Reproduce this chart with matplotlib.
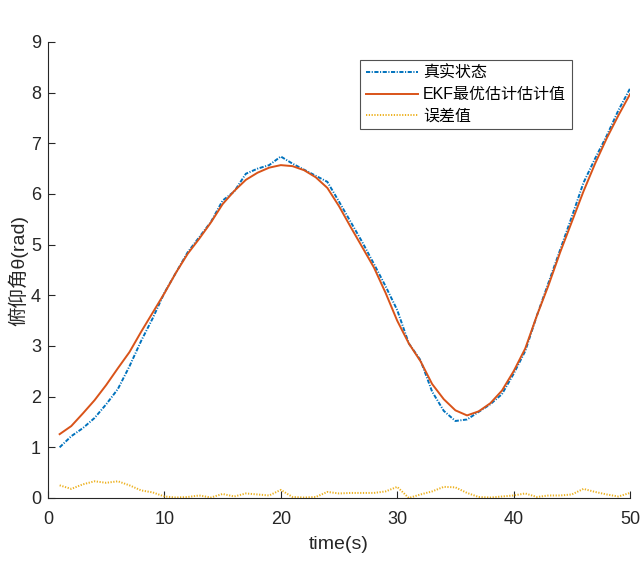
import matplotlib
matplotlib.use("Agg")
import matplotlib.pyplot as plt

plt.rcParams['font.family'] = ['Liberation Sans', 'Noto Sans CJK SC', 'DejaVu Sans']
plt.rcParams['lines.scale_dashes'] = False

t = list(range(1, 51))
true_state = [1.00, 1.22, 1.38, 1.58, 1.85, 2.15, 2.60, 3.10, 3.55, 4.05,
              4.45, 4.85, 5.15, 5.45, 5.87, 6.05, 6.40, 6.50, 6.57, 6.74,
              6.60, 6.48, 6.36, 6.24, 5.85, 5.45, 5.05, 4.62, 4.18, 3.71,
              3.05, 2.72, 2.10, 1.72, 1.52, 1.55, 1.70, 1.85, 2.05, 2.45,
              2.90, 3.60, 4.25, 4.90, 5.55, 6.22, 6.70, 7.15, 7.65, 8.08]
ekf_est = [1.26, 1.42, 1.67, 1.93, 2.23, 2.56, 2.88, 3.28, 3.66, 4.04,
           4.45, 4.82, 5.12, 5.44, 5.80, 6.06, 6.28, 6.42, 6.52, 6.57,
           6.55, 6.47, 6.33, 6.12, 5.76, 5.35, 4.95, 4.55, 4.05, 3.50,
           3.05, 2.70, 2.25, 1.95, 1.73, 1.63, 1.71, 1.87, 2.12, 2.50,
           2.95, 3.60, 4.20, 4.85, 5.45, 6.05, 6.60, 7.10, 7.55, 7.97]
error = [0.25, 0.18, 0.27, 0.33, 0.30, 0.33, 0.25, 0.15, 0.11, 0.03,
         0.01, 0.02, 0.05, 0.01, 0.08, 0.03, 0.09, 0.07, 0.05, 0.16,
         0.02, 0.01, 0.02, 0.12, 0.09, 0.10, 0.10, 0.10, 0.13, 0.22,
         0.00, 0.07, 0.13, 0.22, 0.21, 0.10, 0.02, 0.01, 0.03, 0.05,
         0.09, 0.02, 0.05, 0.05, 0.07, 0.18, 0.12, 0.07, 0.03, 0.10]

labels = ['真实状态', 'EKF最优估计估计值', '误差值']

fig = plt.figure(figsize=(6.43, 5.61), dpi=100)
ax = fig.add_axes([48/643, 1-498/561, (630-48)/643, (498-42)/561])

ax.plot(t, true_state, color='#0072BD', linewidth=1.4, label=labels[0],
        dashes=(3.0, 1.1, 0.8, 1.1))
ax.plot(t, ekf_est, color='#D95319', linestyle='-', linewidth=1.4, label=labels[1])
ax.plot(t, error, color='#EDB120', linewidth=1.4, label=labels[2],
        dashes=(0.9, 1.1))

ax.set_xlim(0, 50)
ax.set_ylim(0, 9)
ax.set_xticks([0, 10, 20, 30, 40, 50])
ax.set_yticks(range(0, 10))
ax.spines['top'].set_visible(False)
ax.spines['right'].set_visible(False)
for s in ['left', 'bottom']:
    ax.spines[s].set_color('#262626')
    ax.spines[s].set_linewidth(0.8)
ax.tick_params(direction='in', length=5, width=0.8, colors='#262626', labelsize=13)
ax.tick_params(axis='x', pad=9)
ax.tick_params(axis='y', pad=5)

ax.set_xlabel('time(s)', fontsize=14, color='#262626', labelpad=6)
ax.set_ylabel('俯仰角θ(rad)', fontsize=14, color='#262626', labelpad=2)

leg = ax.legend(loc='upper left', bbox_to_anchor=((360-48)/582, (498-60)/456),
                fontsize=11.5, frameon=True, fancybox=False, handlelength=3.3,
                borderpad=0.35, labelspacing=0.4, handletextpad=0.3, borderaxespad=0)
leg.get_frame().set_edgecolor('#262626')
leg.get_frame().set_linewidth(0.8)

fig.savefig('out.png', dpi=100)
